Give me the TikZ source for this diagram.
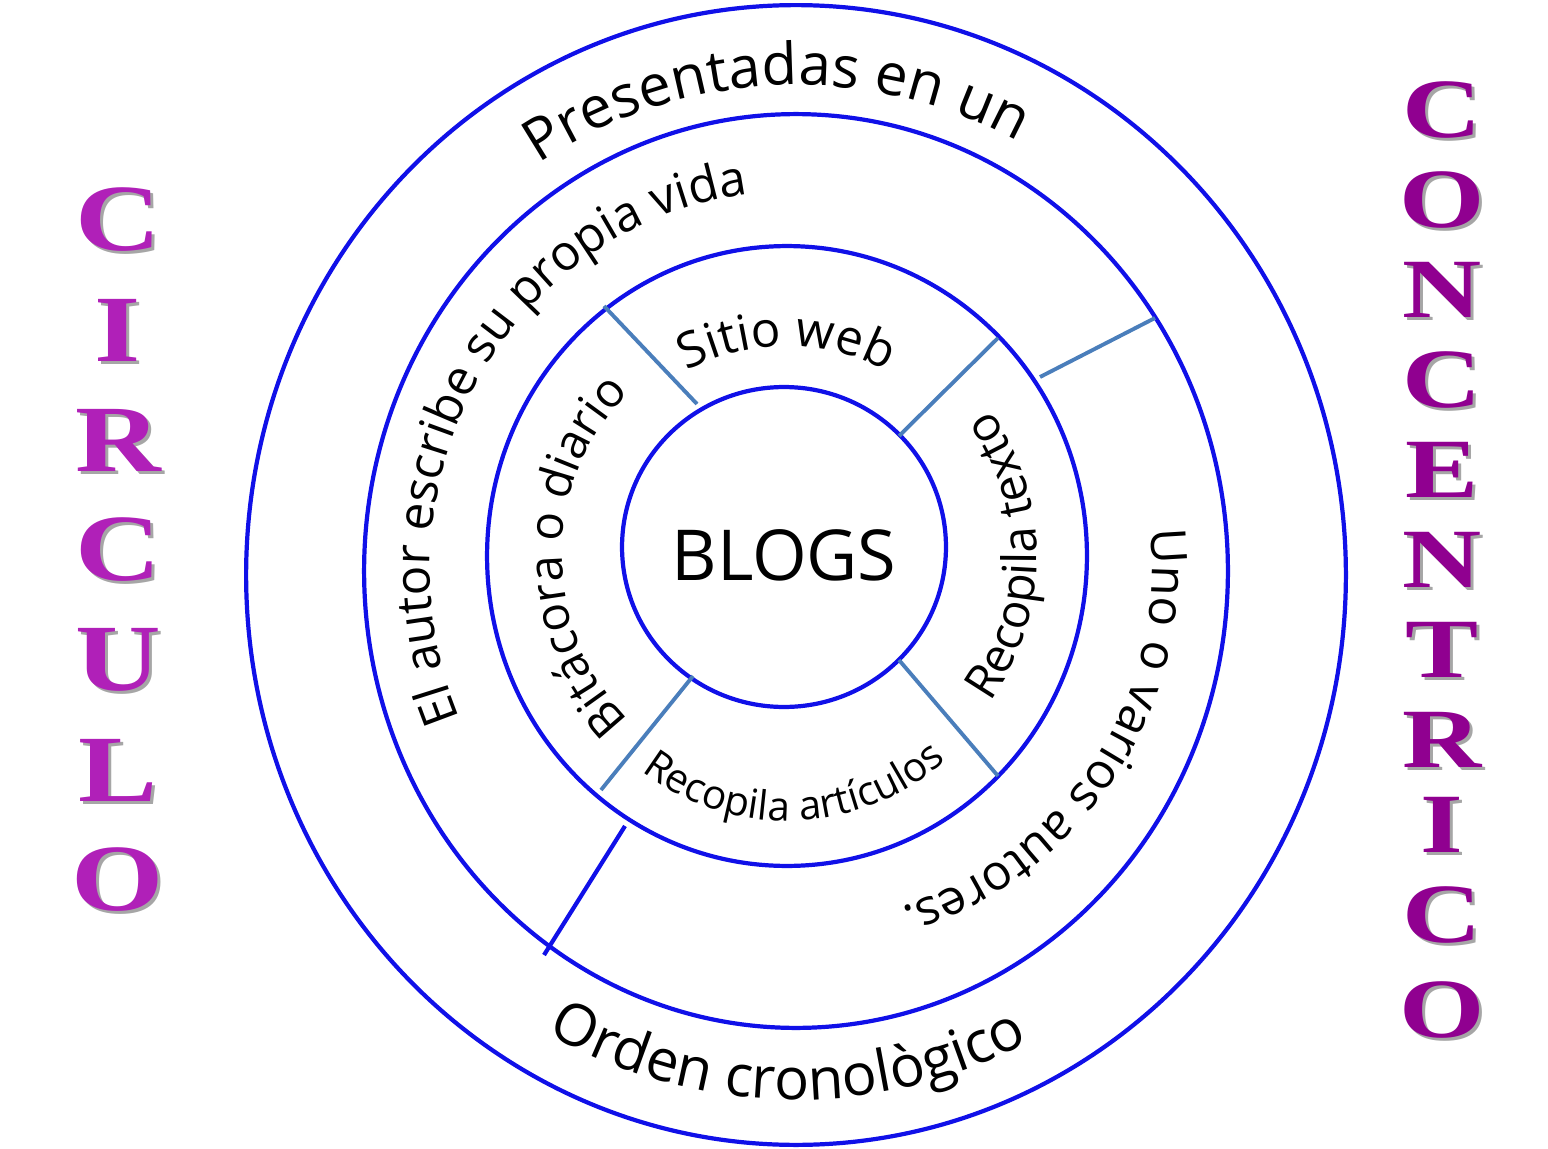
\documentclass[tikz,border=0pt]{standalone}
\usepackage{fontspec}
\setmainfont{Open Sans}
\newfontfamily\bigserif{Liberation Serif}
\usetikzlibrary{decorations.text,calc}
\definecolor{ringblue}{HTML}{1010E8}
\definecolor{divblue}{HTML}{4A7EBB}
\definecolor{lpurple}{HTML}{B020B8}
\definecolor{rpurple}{HTML}{900090}
\tikzset{
  ring/.style={draw=ringblue, line width=2.4pt},
  divider/.style={draw=divblue, line width=2.2pt},
  bigletter/.style={font=\bigserif\bfseries\fontsize{54}{54}\selectfont, inner sep=0pt, xscale=1.25},
  rightletter/.style={font=\bigserif\bfseries\fontsize{48}{48}\selectfont, inner sep=0pt, xscale=1.3},
}
\begin{document}
\begin{tikzpicture}[x=0.02cm,y=0.02cm]
\useasboundingbox (0,0) rectangle (1548,-1149);
\coordinate (c1) at (796,-575);
\coordinate (c2) at (792,-569);
\coordinate (c3) at (787,-556);
\coordinate (c4) at (784,-547);
\draw[ring] (c1) ellipse [x radius=11cm, y radius=11.4cm];
\draw[ring] (796,-571) ellipse [x radius=8.64cm, y radius=9.14cm];
\draw[ring] (c3) ellipse [x radius=6cm, y radius=6.2cm];
\draw[ring] (c4) ellipse [x radius=3.24cm, y radius=3.2cm];
\node[font=\fontsize{40}{44}\selectfont] (blogs) at (784,-555) {BLOGS};
% dividers
\coordinate (d1a) at (604,-306); \coordinate (d1b) at (697,-404);
\coordinate (d2a) at (998,-338); \coordinate (d2b) at (899,-436);
\coordinate (d3a) at (693,-676); \coordinate (d3b) at (601,-790);
\coordinate (d4a) at (899,-660); \coordinate (d4b) at (998,-776);
\coordinate (d5a) at (1155,-318); \coordinate (d5b) at (1040,-377);
\coordinate (d6a) at (625,-826); \coordinate (d6b) at (544,-955);
\draw[divider] (d1a) -- (d1b);
\draw[divider] (d2a) -- (d2b);
\draw[divider] (d3a) -- (d3b);
\draw[divider] (d4a) -- (d4b);
\draw[divider] (d5a) -- (d5b);
\draw[ring] (d6a) -- (d6b);
% outer ring texts
\path[decorate, decoration={text along path, text align=center,
  text={|\fontsize{33}{38}\selectfont|Presentadas en un}}]
  ($(c1)+(130:9.5cm and 9.8cm)$) arc[start angle=130, end angle=55, x radius=9.5cm, y radius=9.8cm];
\path[decorate, decoration={text along path, text align=center,
  text={|\fontsize{33}{38}\selectfont|Orden cronològico}}]
  ($(c1)+(236:10.2cm and 10.5cm)$) arc[start angle=236, end angle=302, x radius=10.2cm, y radius=10.5cm];
% second ring texts
\path[decorate, decoration={text along path, text align=center,
  text={|\fontsize{28}{34}\selectfont|El autor escribe su propia vida}}]
  ($(c2)+(210:7.24cm and 7.56cm)$) arc[start angle=210, end angle=90, x radius=7.24cm, y radius=7.56cm];
\path[decorate, decoration={text along path, text align=center,
  text={|\fontsize{28}{34}\selectfont|Uno  o  varios autores.}}]
  ($(c2)+(16:7.2cm and 7.1cm)$) arc[start angle=16, end angle=-82, x radius=7.2cm, y radius=7.1cm];
% inner ring texts
\path[decorate, decoration={text along path, text align=center,
  text={|\fontsize{28}{34}\selectfont|Sitio web}}]
  ($(c3)+(130:4.25cm and 4.2cm)$) arc[start angle=130, end angle=50, x radius=4.25cm, y radius=4.2cm];
\path[decorate, decoration={text along path, text align=center,
  text={|\fontsize{27}{32}\selectfont|Bitácora  o diario}}]
  ($(c3)+(240:4.5cm and 4.6cm)$) arc[start angle=240, end angle=120, x radius=4.5cm, y radius=4.6cm];
\path[decorate, decoration={text along path, text align=center,
  text={|\fontsize{27}{32}\selectfont|Recopila texto}}]
  ($(c3)+(-55:5.0cm and 5.0cm)$) arc[start angle=-55, end angle=55, x radius=5.0cm, y radius=5.0cm];
\path[decorate, decoration={text along path, text align=center,
  text={|\fontsize{23}{28}\selectfont|Recopila artículos}}]
  ($(c3)+(232:5.0cm and 5.3cm)$) arc[start angle=232, end angle=312, x radius=5.0cm, y radius=5.3cm];
% side letters
\foreach \l/\y [count=\i] in {C/220,I/330,R/440,C/550,U/660,L/770,O/880}{
  \node[bigletter, text=gray!70] at (121,-\y-3) {\l};
  \node[bigletter, text=lpurple] (L\i) at (118,-\y) {\l};
}
\foreach \l/\y [count=\i] in {C/110,O/200,N/290,C/380,E/470,N/560,T/650,R/740,I/825,C/915,O/1010}{
  \node[rightletter, text=gray!70] at (1445,-\y-3) {\l};
  \node[rightletter, text=rpurple] (R\i) at (1442,-\y) {\l};
}
\end{tikzpicture}
\end{document}
